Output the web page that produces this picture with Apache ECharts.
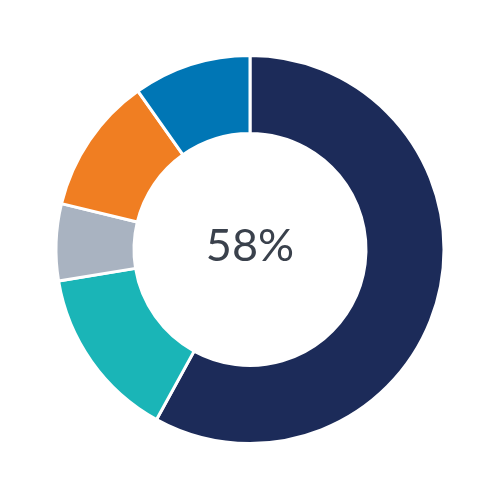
<!DOCTYPE html>
<html>
<head>
<meta charset="utf-8">
<script src="https://cdn.jsdelivr.net/npm/echarts@6/dist/echarts.min.js"></script>
<style>html,body{margin:0;padding:0;background:#fff;}#c{width:500px;height:500px;}</style>
</head>
<body>
<div id="c"></div>
<script>
const categories = ['A', 'B', 'C', 'D', 'E'];
const values = [58, 14.4, 6.4, 11.4, 9.8];
const colors = ['#1c2b59', '#1ab5b7', '#a9b3c1', '#f07e22', '#0076b5'];
const centerLabel = '58%';

const chart = echarts.init(document.getElementById('c'), null, {renderer: 'canvas'});
chart.setOption({
  animation: false,
  graphic: [{
    type: 'text',
    style: {
      text: centerLabel,
      x: 250, y: 246,
      fill: '#3a414c',
      font: '45px Lato',
      align: 'center',
      verticalAlign: 'middle'
    }
  }],
  series: [{
    type: 'pie',
    center: [250, 249.5],
    radius: [116, 194],
    startAngle: 90,
    clockwise: true,
    label: {show: false},
    labelLine: {show: false},
    emphasis: {disabled: true},
    itemStyle: {borderColor: '#ffffff', borderWidth: 3},
    data: categories.map((c, i) => ({name: c, value: values[i], itemStyle: {color: colors[i]}}))
  }]
});
</script>
</body>
</html>
